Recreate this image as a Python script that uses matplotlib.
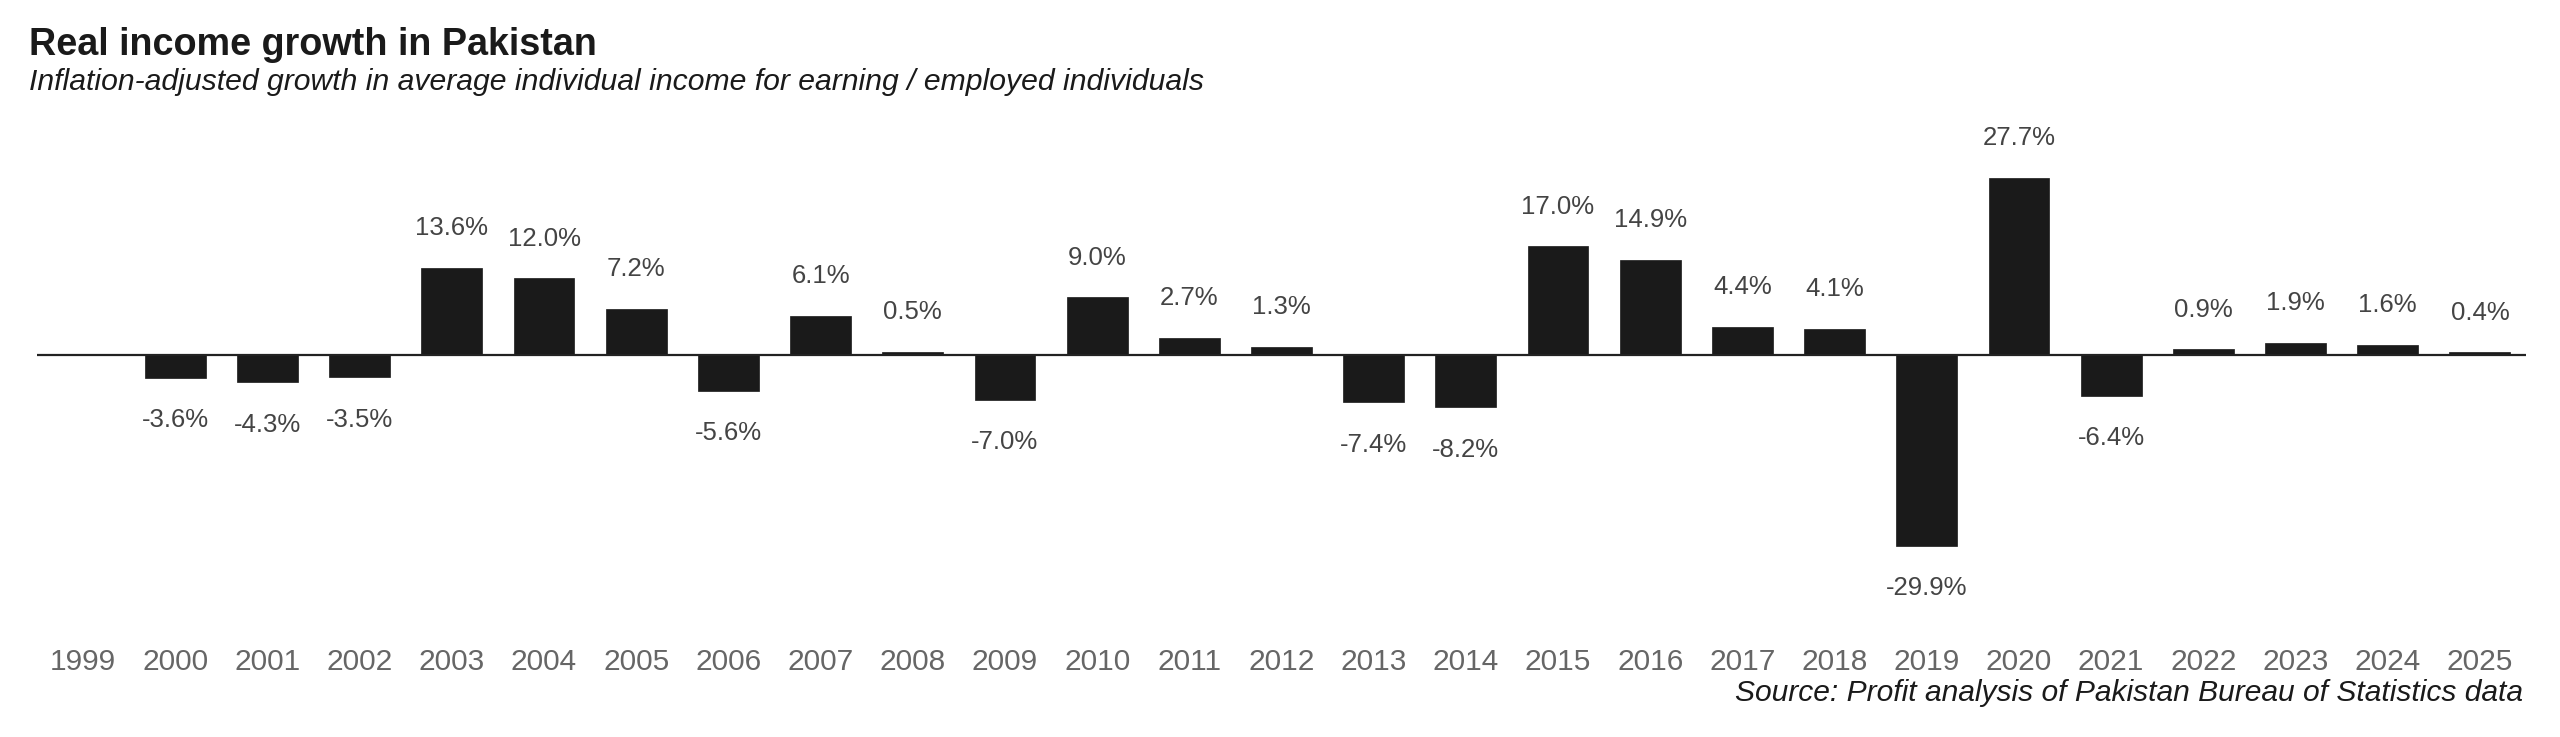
import matplotlib
matplotlib.use('Agg')
import matplotlib.pyplot as plt

plt.rcParams['font.family'] = ['Liberation Sans', 'DejaVu Sans']

# data (1999 has no value)
years = list(range(1999, 2026))
growth = [None, -3.6, -4.3, -3.5, 13.6, 12.0, 7.2, -5.6, 6.1, 0.5, -7.0,
          9.0, 2.7, 1.3, -7.4, -8.2, 17.0, 14.9, 4.4, 4.1, -29.9,
          27.7, -6.4, 0.9, 1.9, 1.6, 0.4]

title_text = 'Real income growth in Pakistan'
subtitle_text = 'Inflation-adjusted growth in average individual income for earning / employed individuals'
source_text = 'Source: Profit analysis of Pakistan Bureau of Statistics data'

fig = plt.figure(figsize=(25.6, 7.37), dpi=100)
W, H = 2560, 737
ax = fig.add_axes([37 / W, 1 - 640 / H, (2526 - 37) / W, 540 / H])

bx = [y for y, v in zip(years, growth) if v is not None]
bv = [v for v in growth if v is not None]
ax.bar(bx, bv, width=0.66, color='#1a1a1a', edgecolor='#1a1a1a', linewidth=0.5, zorder=2)
ax.axhline(0, color='#222222', linewidth=1.6, zorder=3)

for x, v in zip(bx, bv):
    off = 28.5 if v >= 0 else -30.5
    ax.annotate(f'{v:.1f}%', (x, v), xytext=(0, off), textcoords='offset points',
                ha='center', va='center', fontsize=18.5, color='#444444')

ax.set_xlim(1998.5, 2025.5)
ax.set_ylim(-44.6, 39.9)
ax.set_xticks(years)
ax.set_xticklabels([str(y) for y in years], fontsize=21.5, color='#666666')
ax.tick_params(axis='x', length=0, pad=6)
ax.set_yticks([])
for s in ax.spines.values():
    s.set_visible(False)

fig.text(29 / W, 1 - 55 / H, title_text, fontsize=27.2, fontweight='bold',
         color='#1a1a1a', va='baseline', ha='left')
fig.text(29 / W, 1 - 90 / H, subtitle_text, fontsize=21.7, fontstyle='italic',
         color='#1a1a1a', va='baseline', ha='left')
fig.text(2523 / W, 1 - 701 / H, source_text, fontsize=21.6, fontstyle='italic',
         color='#1a1a1a', va='baseline', ha='right')

fig.savefig('out.png', dpi=100, facecolor='white')
